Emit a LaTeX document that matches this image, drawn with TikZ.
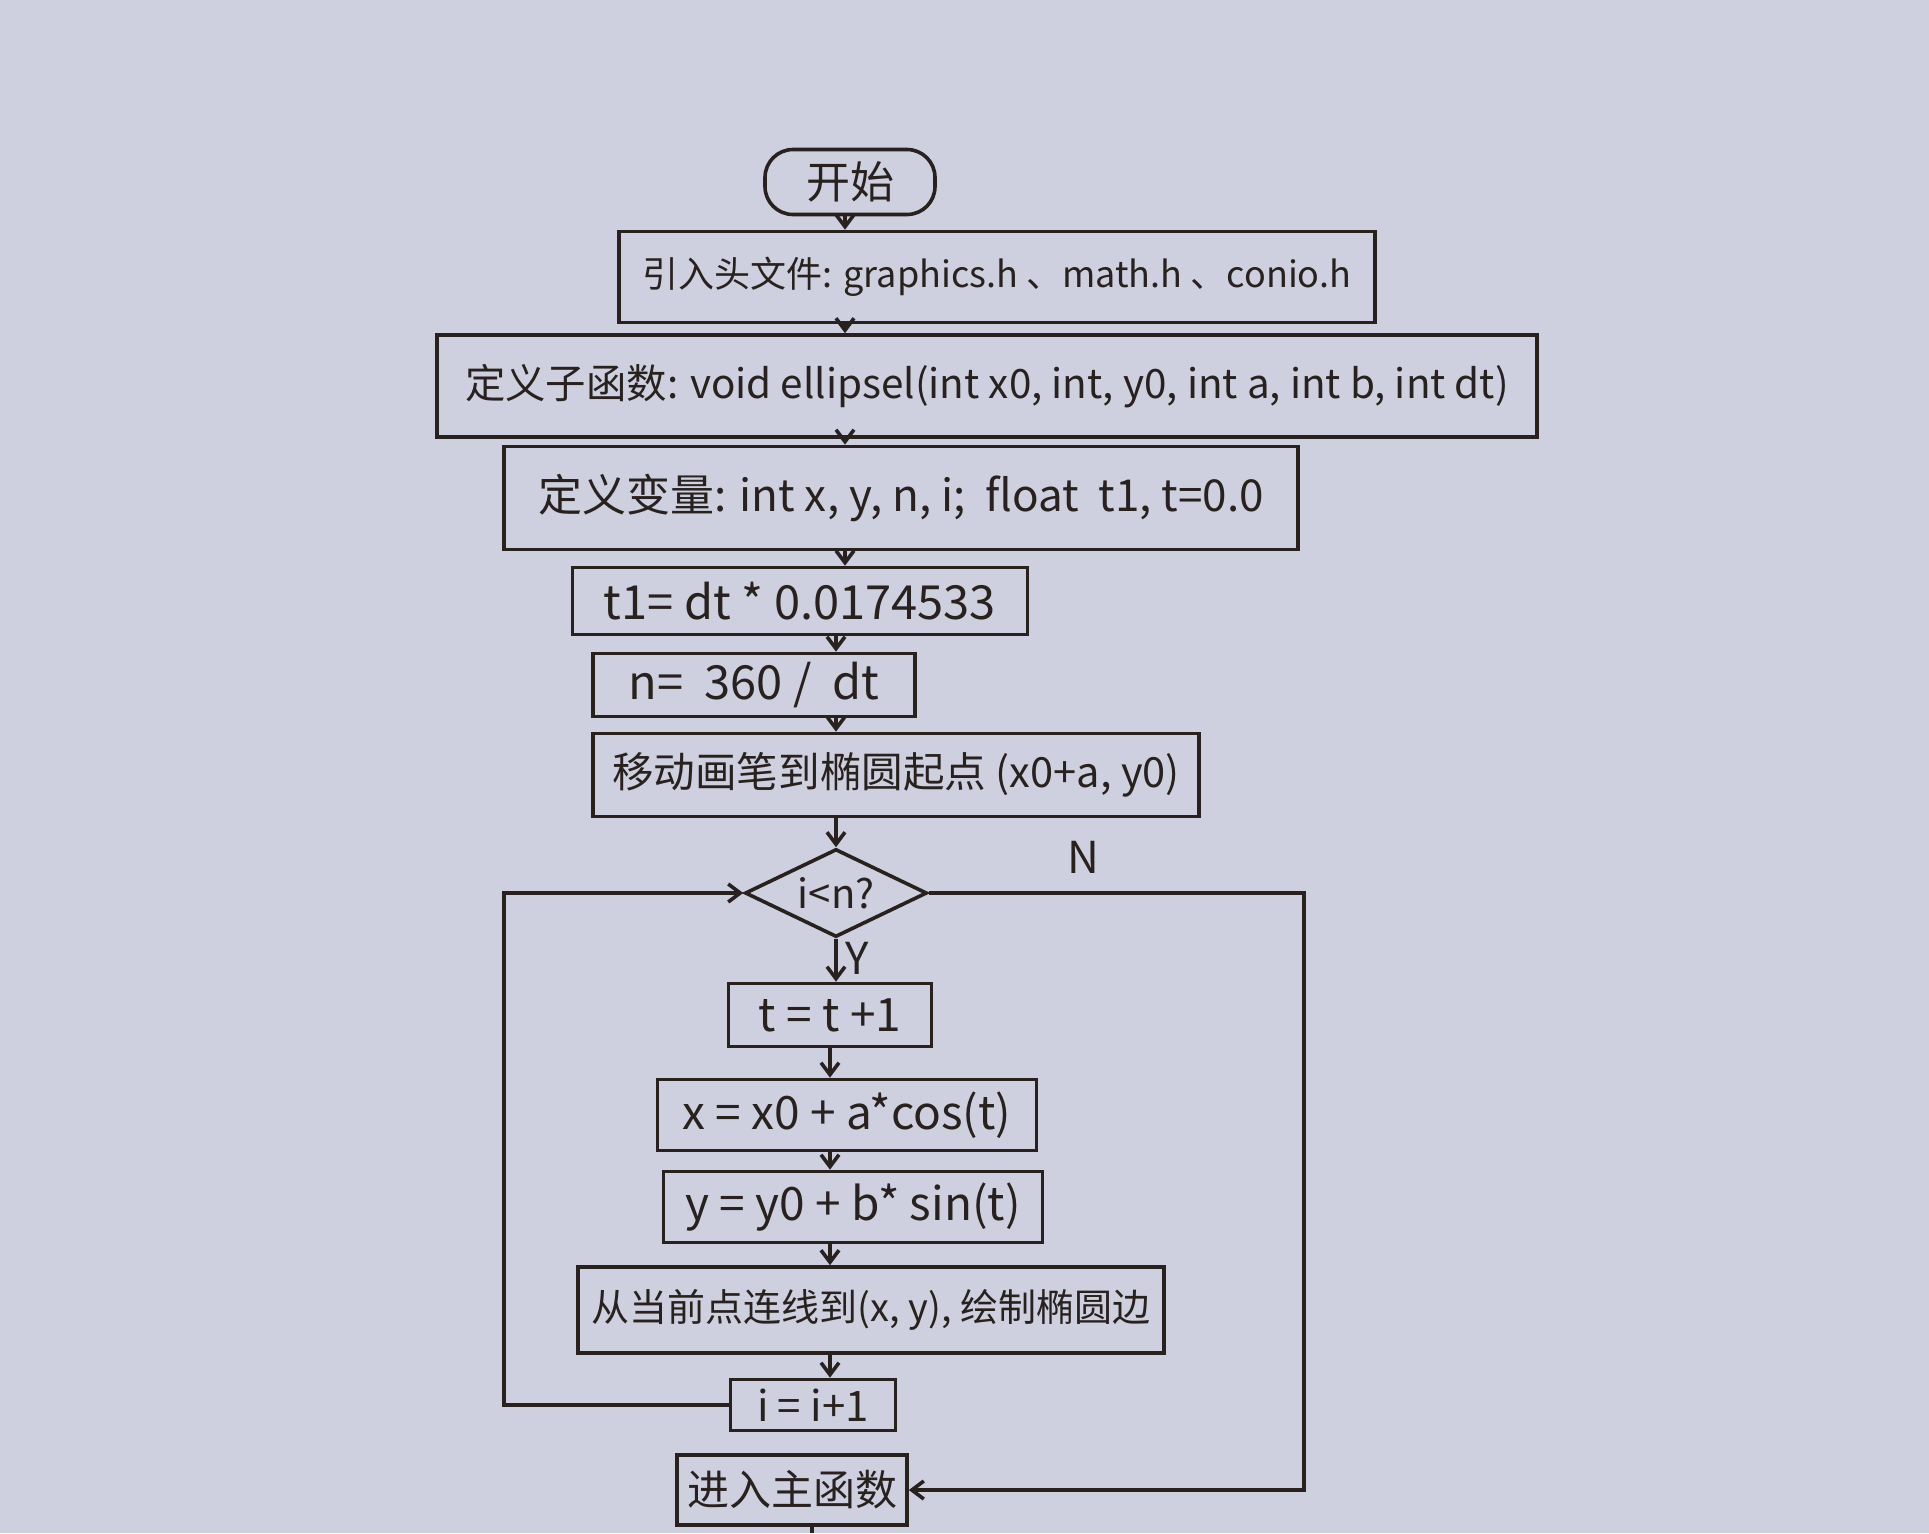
\documentclass[tikz,border=0pt]{standalone}
\usepackage{fontspec}
\newfontfamily\cjk{Noto Sans CJK SC}
\usetikzlibrary{shapes.geometric,arrows.meta}
\definecolor{paper}{RGB}{206,208,224}
\definecolor{ink}{RGB}{40,33,30}
\begin{document}
\begin{tikzpicture}[x=0.5pt,y=-0.5pt,
  box/.style={draw=ink, line width=1.8pt, inner sep=0pt, text=ink},
  fz/.style={font=\cjk\fontsize{#1pt}{#1pt}\selectfont},
  arr/.style={draw=ink, line width=1.8pt, -{Straight Barb[length=6pt,width=9pt]}},
  ln/.style={draw=ink, line width=1.8pt},
  lbl/.style={text=ink, fz=22}]
\fill[paper] (0,0) rectangle (1929,1533);
\useasboundingbox (0,0) rectangle (1929,1533);

\node[box, fz=22, rounded corners=14pt, minimum width=85pt, minimum height=32.5pt] (start) at (850,182) {开始};
\node[box, fz=18, minimum width=378pt, minimum height=45.5pt] (inc) at (997,277) {引入头文件: graphics.h 、math.h 、conio.h};
\node[box, fz=20.2, minimum width=550pt, minimum height=51pt] (func) at (987,386) {定义子函数: void ellipsel(int x0, int, y0, int a, int b, int dt)};
\node[box, fz=22, minimum width=397pt, minimum height=51.5pt] (var) at (901,498) {定义变量: int x, y, n, i;\ \ float\ \ t1, t=0.0};
\node[box, fz=23.5, minimum width=227.5pt, minimum height=33.5pt] (tone) at (800,601) {t1= dt * 0.0174533};
\node[box, fz=23.5, minimum width=161pt, minimum height=31.5pt] (nn) at (754,685) {n=\ \ 360 /\ \ dt};
\node[box, fz=20.8, minimum width=303pt, minimum height=41.5pt] (move) at (896,775) {移动画笔到椭圆起点 (x0+a, y0)};
\node[box, fz=20, diamond, minimum width=91pt, minimum height=44pt, aspect=2.07] (dia) at (836,893) {i<n?};
\node[box, fz=23, minimum width=101.5pt, minimum height=31.5pt] (tt) at (830,1015) {t\ =\ t\ +1};
\node[box, fz=23, minimum width=189.5pt, minimum height=35.5pt] (xx) at (847,1115) {x = x0 + a*cos(t)};
\node[box, fz=23, minimum width=189.5pt, minimum height=35.5pt] (yy) at (853,1207) {y = y0 + b* sin(t)};
\node[box, fz=19, minimum width=293pt, minimum height=43pt] (drw) at (871,1310) {从当前点连线到(x, y), 绘制椭圆边};
\node[box, fz=21, minimum width=82.5pt, minimum height=25.5pt] (ii) at (813,1405) {i\ =\ i+1};
\node[box, fz=21, minimum width=115pt, minimum height=35pt] (main) at (792,1490) {进入主函数};

\coordinate (ax) at (845,0);
\coordinate (ax2) at (836,0);
\coordinate (ax3) at (830,0);
\coordinate (lx) at (504,0);
\coordinate (rx) at (1304,0);
\coordinate (bot) at (812,1533);

\draw[arr] (start.south -| ax) -- (inc.north -| ax);
\draw[arr] (inc.south -| ax) -- (func.north -| ax);
\draw[arr] (func.south -| ax) -- (var.north -| ax);
\draw[arr] (var.south -| ax) -- (tone.north -| ax);
\draw[arr] (tone.south -| ax2) -- (nn.north -| ax2);
\draw[arr] (nn.south -| ax2) -- (move.north -| ax2);
\draw[arr] (move.south -| dia.north) -- (dia.north);
\draw[arr] (dia.south) -- (tt.north -| dia.south);
\draw[arr] (tt.south -| ax3) -- (xx.north -| ax3);
\draw[arr] (xx.south -| ax3) -- (yy.north -| ax3);
\draw[arr] (yy.south -| ax3) -- (drw.north -| ax3);
\draw[arr] (drw.south -| ax3) -- (ii.north -| ax3);
\draw[arr] (ii.west) -- (ii.west -| lx) -- (dia.west -| lx) -- (dia.west);
\draw[arr] (dia.east) -- (dia.east -| rx) -- (main.east -| rx) -- (main.east);
\draw[ln] (main.south -| bot) -- (bot);

\node[lbl] (nlab) at (1083,857) {N};
\node[lbl] (ylab) at (857,958) {Y};
\end{tikzpicture}
\end{document}
